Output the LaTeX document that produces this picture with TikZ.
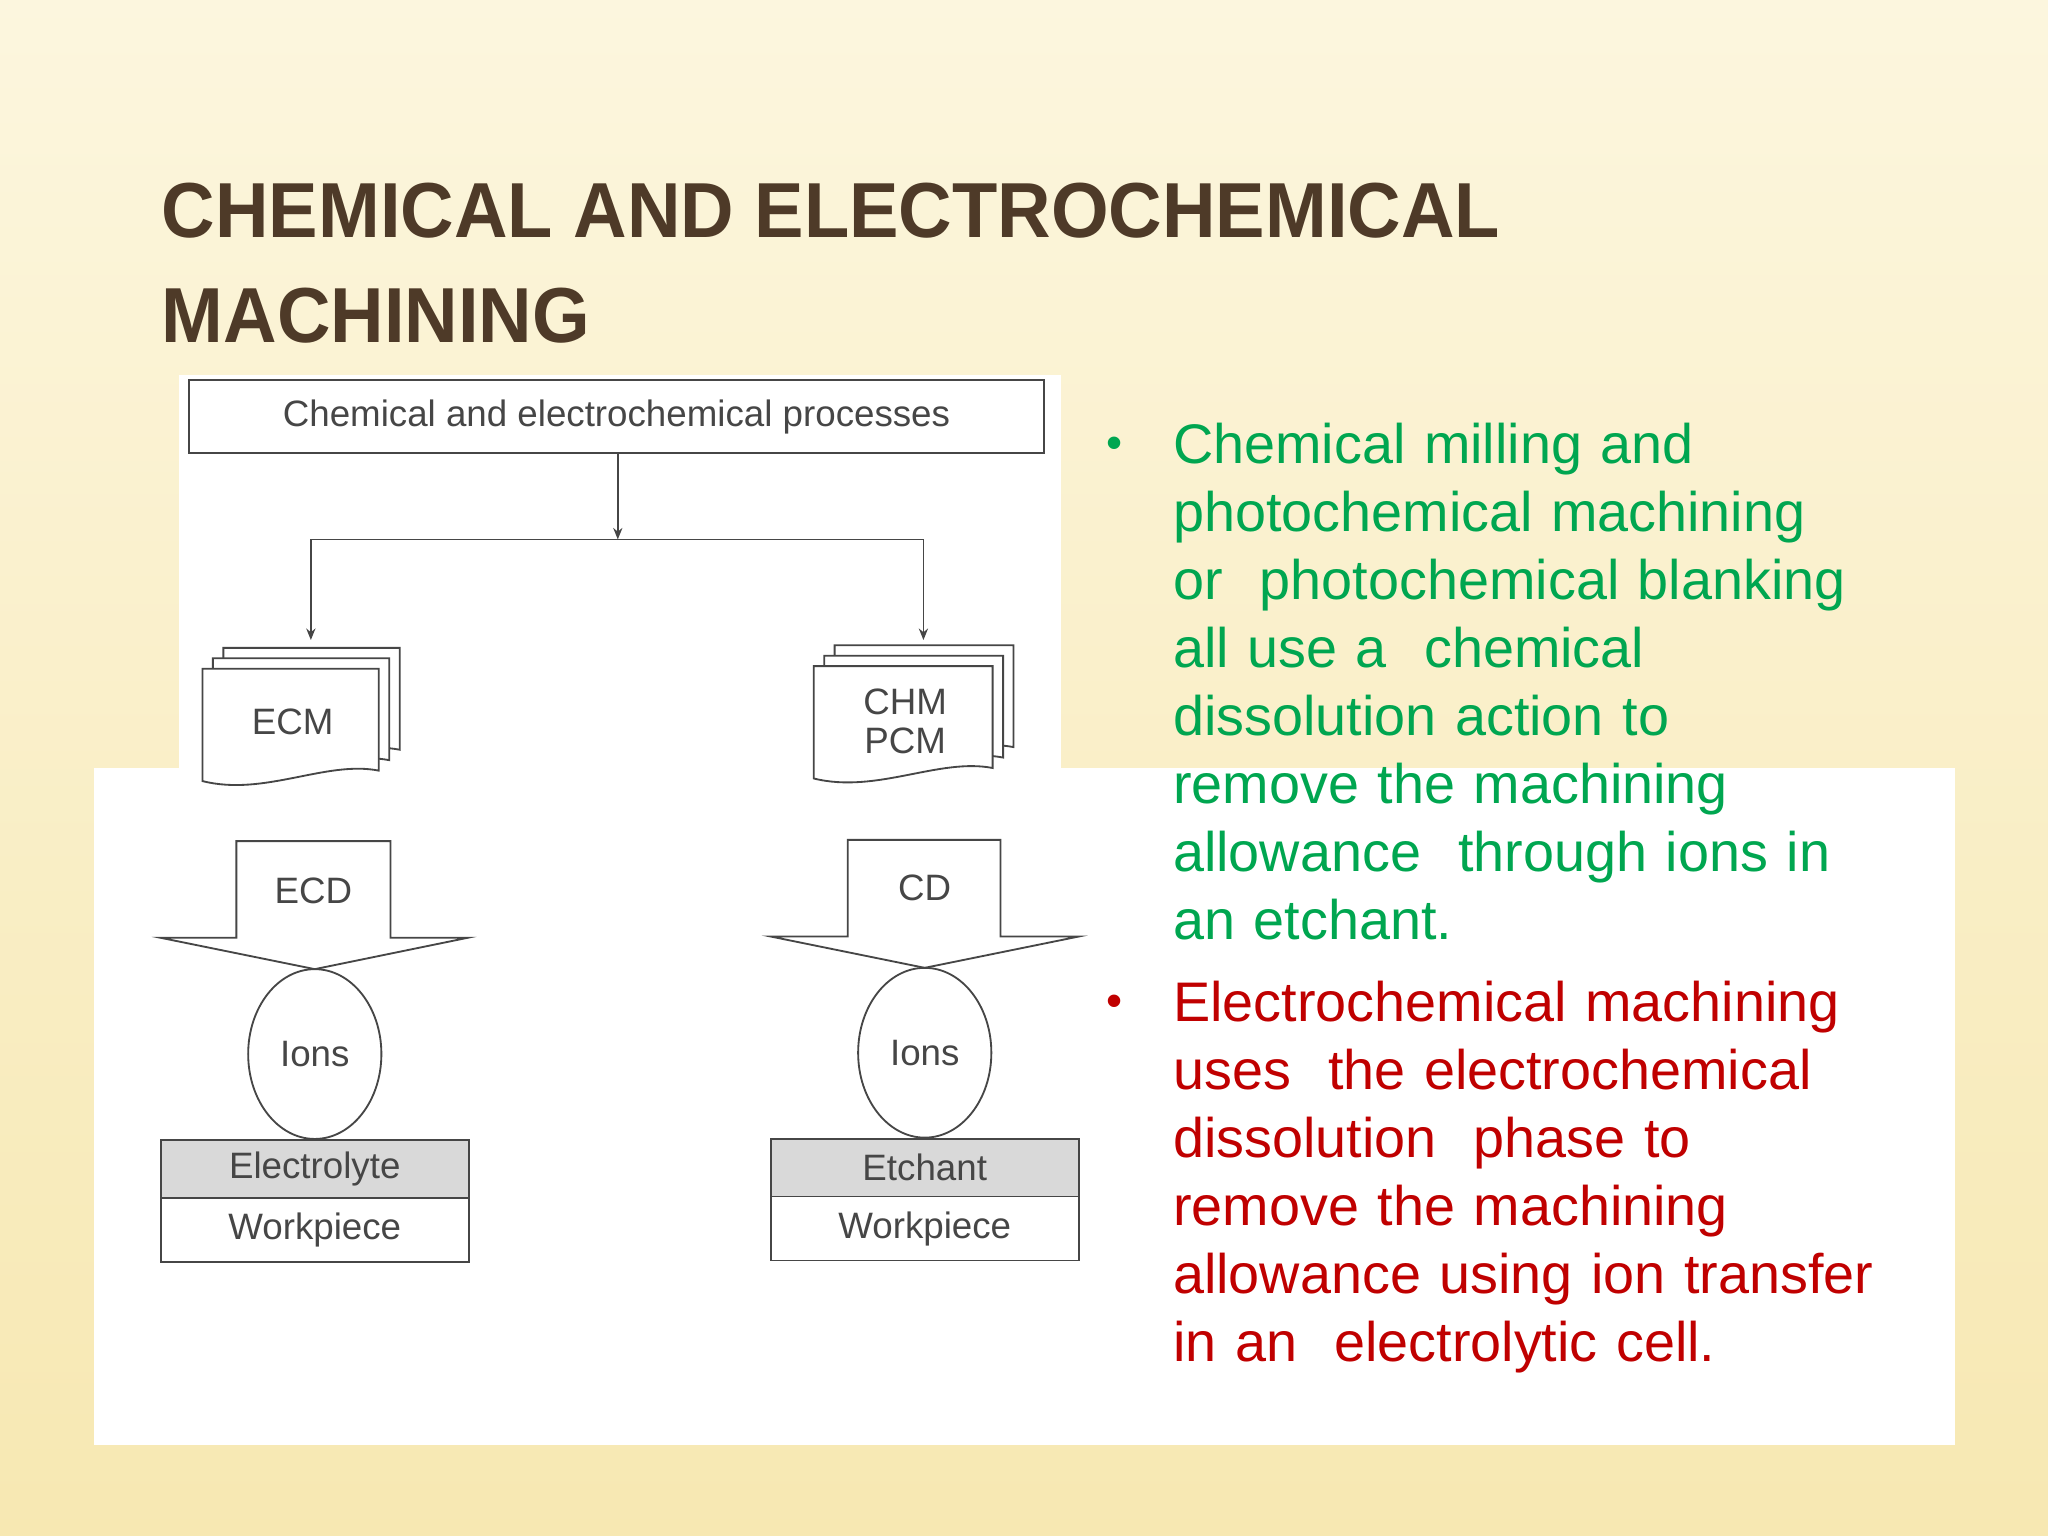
\documentclass[tikz,border=0pt]{standalone}
\usepackage{fontspec}
\setmainfont{Liberation Sans}
\usetikzlibrary{arrows.meta,calc,positioning}
\definecolor{bgyel}{RGB}{247,232,178}
\definecolor{bgtop}{RGB}{252,246,222}
\definecolor{titlebrown}{RGB}{78,58,40}
\definecolor{txtgreen}{RGB}{0,166,80}
\definecolor{txtred}{RGB}{192,0,0}
\definecolor{diag}{RGB}{70,70,70}
\begin{document}
\begin{tikzpicture}[x=0.02cm,y=-0.02cm,
    lbl/.style={text=diag,font=\fontsize{16}{18}\selectfont},
    pbox/.style={draw=diag,line width=0.8pt},
    conn/.style={draw=diag,line width=0.8pt,-{Stealth[length=5pt,width=4pt]}},
    bul/.style={anchor=north west,align=left,text width=620,font=\fontsize{24.3}{29.6}\selectfont}]

    % background and white panels
    \shade[top color=bgtop,bottom color=bgyel] (0,0) rectangle (1568,1176);
    \useasboundingbox (0,0) rectangle (1568,1176);
    \fill[white] (137,287) rectangle (812,590);
    \fill[white] (72,588) rectangle (1497,1106);

    % title
    \node[anchor=base west,text=titlebrown,font=\fontsize{34}{40}\selectfont\bfseries,xscale=0.95] (title1) at (118,182) {CHEMICAL AND ELECTROCHEMICAL};
    \node[anchor=base west,text=titlebrown,font=\fontsize{34}{40}\selectfont\bfseries,xscale=0.95] (title2) at (118,262) {MACHINING};

    % top box and branches
    \node[pbox,lbl,minimum width=655*0.02cm,minimum height=56*0.02cm] (proc) at (472,319) {Chemical and electrochemical processes};
    \coordinate (split) at (473,413);
    \coordinate (lsplit) at (238,413);
    \coordinate (rsplit) at (707,413);
    \coordinate (ltop) at (238,490);
    \coordinate (rtop) at (707,490);
    \draw[conn] (proc.south -| split) -- (split);
    \draw[draw=diag,line width=0.8pt] (lsplit) -- (rsplit);
    \draw[conn] (lsplit) -- (ltop);
    \draw[conn] (rsplit) -- (rtop);

    % document stacks
    \foreach \cx/\cy/\w in {155/512/135,623/510/137} {
        \foreach \d in {16,8,0} {
            \filldraw[fill=white,draw=diag,line width=0.8pt]
                (\cx+\d,\cy-\d) -- (\cx+\d+\w,\cy-\d) -- (\cx+\d+\w,\cy-\d+78)
                .. controls (\cx+\d+\w*0.7,\cy-\d+70) and (\cx+\d+\w*0.35,\cy-\d+98) .. (\cx+\d,\cy-\d+86) -- cycle;
        }
    }
    \node[lbl] (ecm) at (224,553) {ECM};
    \node[lbl,align=center] (chm) at (693,552) {CHM\\[-1pt]PCM};

    % big arrows
    \filldraw[fill=white,draw=diag,line width=0.8pt] (181,644) -- (299,644) -- (299,718) -- (358,718) -- (241,742) -- (123,718) -- (181,718) -- cycle;
    \filldraw[fill=white,draw=diag,line width=0.8pt] (649,643) -- (766,643) -- (766,717) -- (826,717) -- (708,741) -- (590,717) -- (649,717) -- cycle;
    \node[lbl] (ecd) at (240,682) {ECD};
    \node[lbl] (cd) at (708,680) {CD};

    % ions
    \draw[pbox,fill=white] (241,807) ellipse (51 and 65);
    \draw[pbox,fill=white] (708,806) ellipse (51 and 65);
    \node[lbl] (ionsl) at (241,807) {Ions};
    \node[lbl] (ionsr) at (708,806) {Ions};

    % electrolyte / workpiece
    \filldraw[fill=gray!30,draw=diag,line width=0.8pt] (123,873) rectangle (359,917);
    \draw[pbox] (123,917) rectangle (359,966);
    \filldraw[fill=gray!30,draw=diag,line width=0.8pt] (590,872) rectangle (826,916);
    \draw[pbox] (590,916) rectangle (826,965);
    \node[lbl] (elec) at (241,895) {Electrolyte};
    \node[lbl] (wpl) at (241,942) {Workpiece};
    \node[lbl] (etch) at (708,894) {Etchant};
    \node[lbl] (wpr) at (708,941) {Workpiece};

    % bullet text
    \node[bul,text=txtgreen] (gtext) at (892,318) {Chemical milling and\\photochemical machining\\or~ photochemical blanking\\all use a~ chemical\\dissolution action to\\remove the machining\\allowance~ through ions in\\an etchant.};
    \node[bul,text=txtred] (rtext) at (892,745) {Electrochemical machining\\uses~ the electrochemical\\dissolution~ phase to\\remove the machining\\allowance using ion transfer\\in an~ electrolytic cell.};
    \node[text=txtgreen,font=\fontsize{20}{24}\selectfont] (gbul) at (853,343) {•};
    \node[text=txtred,font=\fontsize{20}{24}\selectfont] (rbul) at (853,770) {•};
\end{tikzpicture}
\end{document}
